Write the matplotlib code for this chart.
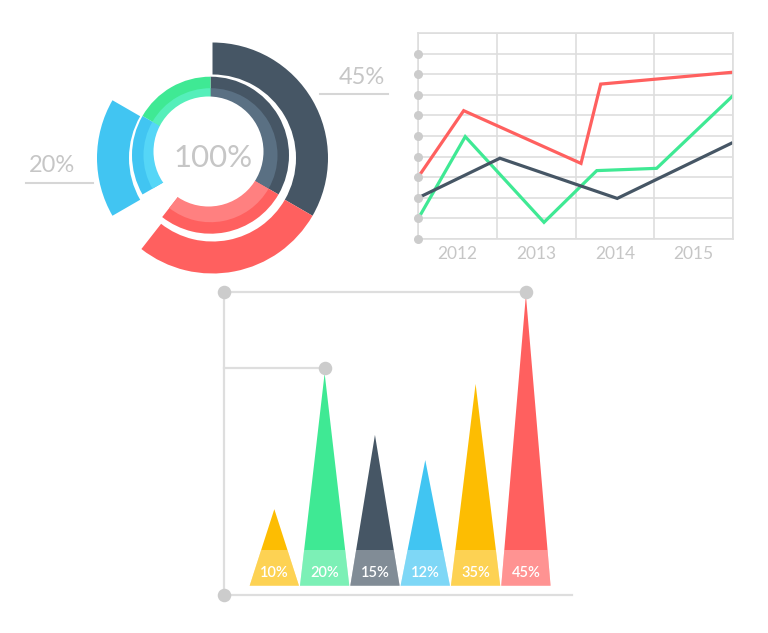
import matplotlib
matplotlib.use("Agg")
import matplotlib.pyplot as plt
from matplotlib.patches import Circle, Polygon, Rectangle

# ---------------- data ----------------
# donut segments (degrees, clockwise from 12 o'clock): dark, red, gap, blue, green
ring_values = [120, 98, 22, 60, 60]
outer_labels = ["45%", "20%"]
center_label = "100%"

years = ["2012", "2013", "2014", "2015"]
red_x = [0.03, 0.58, 2.07, 2.32, 3.98]
red_y = [3.16, 6.23, 3.67, 7.52, 8.09]
green_x = [0.03, 0.60, 1.60, 2.27, 3.03, 4.00]
green_y = [1.17, 4.97, 0.81, 3.32, 3.43, 6.96]
dark_x = [0.03, 1.04, 2.53, 3.98]
dark_y = [2.05, 3.92, 1.97, 4.65]

peak_labels = ["10%", "20%", "15%", "12%", "35%", "45%"]
peak_heights = [28.3, 73.1, 52.8, 44.5, 69.6, 98.9]

# ---------------- style ----------------
DARK = "#465665"
RED = "#ff605f"
GREEN = "#3fe994"
BLUE = "#41c5f2"
YELLOW = "#fdbd02"
DARK_L = "#5a7083"
RED_L = "#ff8080"
BLUE_L = "#55d6f7"
GREEN_L = "#55efba"
GRID = "#dedede"
TXT = "#c6c6c6"
DOT = "#cccccc"
FONT = ["Lato", "DejaVu Sans"]

W, H = 768, 633
fig = plt.figure(figsize=(W / 100, H / 100), dpi=100)
fig.patch.set_facecolor("white")


def px_axes(x0, y0, x1, y1):
    return fig.add_axes([x0 / W, 1 - y1 / H, (x1 - x0) / W, (y1 - y0) / H])


# ---------------- donut (pixel space, y up) ----------------
ax0 = fig.add_axes([0, 0, 1, 1])
ax0.set_zorder(0)
wp = dict(linewidth=0)
ax0.pie(ring_values, radius=115.5, center=(212.5, H - 158), startangle=90,
        counterclock=False, colors=[DARK, RED, "none", BLUE, "none"],
        wedgeprops=dict(width=32, linewidth=0), frame=True)
ax0.pie(ring_values, radius=78.5, center=(210.5, H - 155.2), startangle=90,
        counterclock=False, colors=[DARK, RED, "none", BLUE, GREEN],
        wedgeprops=wp, frame=True)
ax0.pie(ring_values, radius=67, center=(210.5, H - 155.2), startangle=90,
        counterclock=False, colors=[DARK_L, RED_L, "none", BLUE_L, GREEN_L],
        wedgeprops=wp, frame=True)
ax0.add_patch(Circle((208.5, H - 151.5), 55, facecolor="white", edgecolor="none", zorder=5))
ax0.text(213, H - 158, center_label, ha="center", va="center", fontsize=22.5,
         color=TXT, family=FONT, zorder=6)
ax0.text(362, H - 78, outer_labels[0], ha="center", va="center", fontsize=17,
         color=TXT, family=FONT)
ax0.plot([320, 388], [H - 93.5, H - 93.5], color="#d6d6d6", lw=1.5)
ax0.text(52, H - 166, outer_labels[1], ha="center", va="center", fontsize=17,
         color=TXT, family=FONT)
ax0.plot([26, 93], [H - 183, H - 183], color="#d6d6d6", lw=1.5)
ax0.set_xlim(0, W)
ax0.set_ylim(0, H)
ax0.set_aspect("auto")
ax0.axis("off")

# ---------------- line chart ----------------
ax1 = px_axes(418, 33, 733, 239)
ax1.set_xlim(0, 4)
ax1.set_ylim(0, 10)
ax1.set_xticks([0, 1, 2, 3, 4], minor=True)
ax1.set_xticks([0.5, 1.5, 2.5, 3.5])
ax1.set_xticklabels(years, color=TXT, fontsize=12.5, family=FONT)
ax1.set_yticks(range(0, 11))
ax1.set_yticklabels([])
ax1.tick_params(axis="both", which="both", length=0, pad=5)
ax1.grid(True, which="minor", axis="x", color=GRID, lw=1.2)
ax1.grid(True, which="major", axis="y", color=GRID, lw=1.2)
for s in ax1.spines.values():
    s.set_color(GRID)
    s.set_linewidth(1.2)
ax1.plot(red_x, red_y, color=RED, lw=2.3, solid_joinstyle="miter")
ax1.plot(green_x, green_y, color=GREEN, lw=2.3, solid_joinstyle="miter")
ax1.plot(dark_x, dark_y, color=DARK, lw=2.3, solid_joinstyle="miter")
ax1.scatter([0] * 10, list(range(10)), s=30, color=DOT, zorder=5, clip_on=False)
ax1.set_facecolor("none")

# ---------------- peak chart ----------------
ax2 = px_axes(224, 291.7, 571.7, 595)
ax2.set_xlim(0, 6.91)
ax2.set_ylim(0, 100)
ax2.axis("off")
ax2.set_facecolor("none")
base_y, band_top, half_w = 3.07, 14.8, 0.49
colors = [YELLOW, GREEN, DARK, BLUE, YELLOW, RED]
for i, (h, c, lab) in enumerate(zip(peak_heights, colors, peak_labels)):
    xc = i + 1
    tri = Polygon([[xc - half_w, base_y], [xc + half_w, base_y], [xc, h]],
                  closed=True, facecolor=c, edgecolor="none", zorder=3)
    ax2.add_patch(tri)
    band = Rectangle((xc - half_w, base_y), 2 * half_w, band_top - base_y,
                     facecolor="white", alpha=0.32, edgecolor="none", zorder=4)
    ax2.add_patch(band)
    band.set_clip_path(tri)
    ax2.text(xc, 7.3, lab, ha="center", va="center", color="white",
             fontsize=10.5, family=FONT, fontweight="semibold", zorder=5)

ax2.plot([0, 6.91], [0, 0], color=GRID, lw=1.6, clip_on=False, zorder=1)
ax2.plot([0, 0], [0, 100], color=GRID, lw=1.6, clip_on=False, zorder=1)
ax2.plot([0, 6], [100, 100], color=GRID, lw=1.6, clip_on=False, zorder=1)
ax2.plot([0, 2], [74.7, 74.7], color=GRID, lw=1.6, clip_on=False, zorder=1)
ax2.scatter([0, 0, 6, 2], [0, 100, 100, 74.7], s=95, color=DOT, zorder=6,
            clip_on=False, linewidths=0)

fig.savefig("out.png", dpi=100, facecolor="white")
